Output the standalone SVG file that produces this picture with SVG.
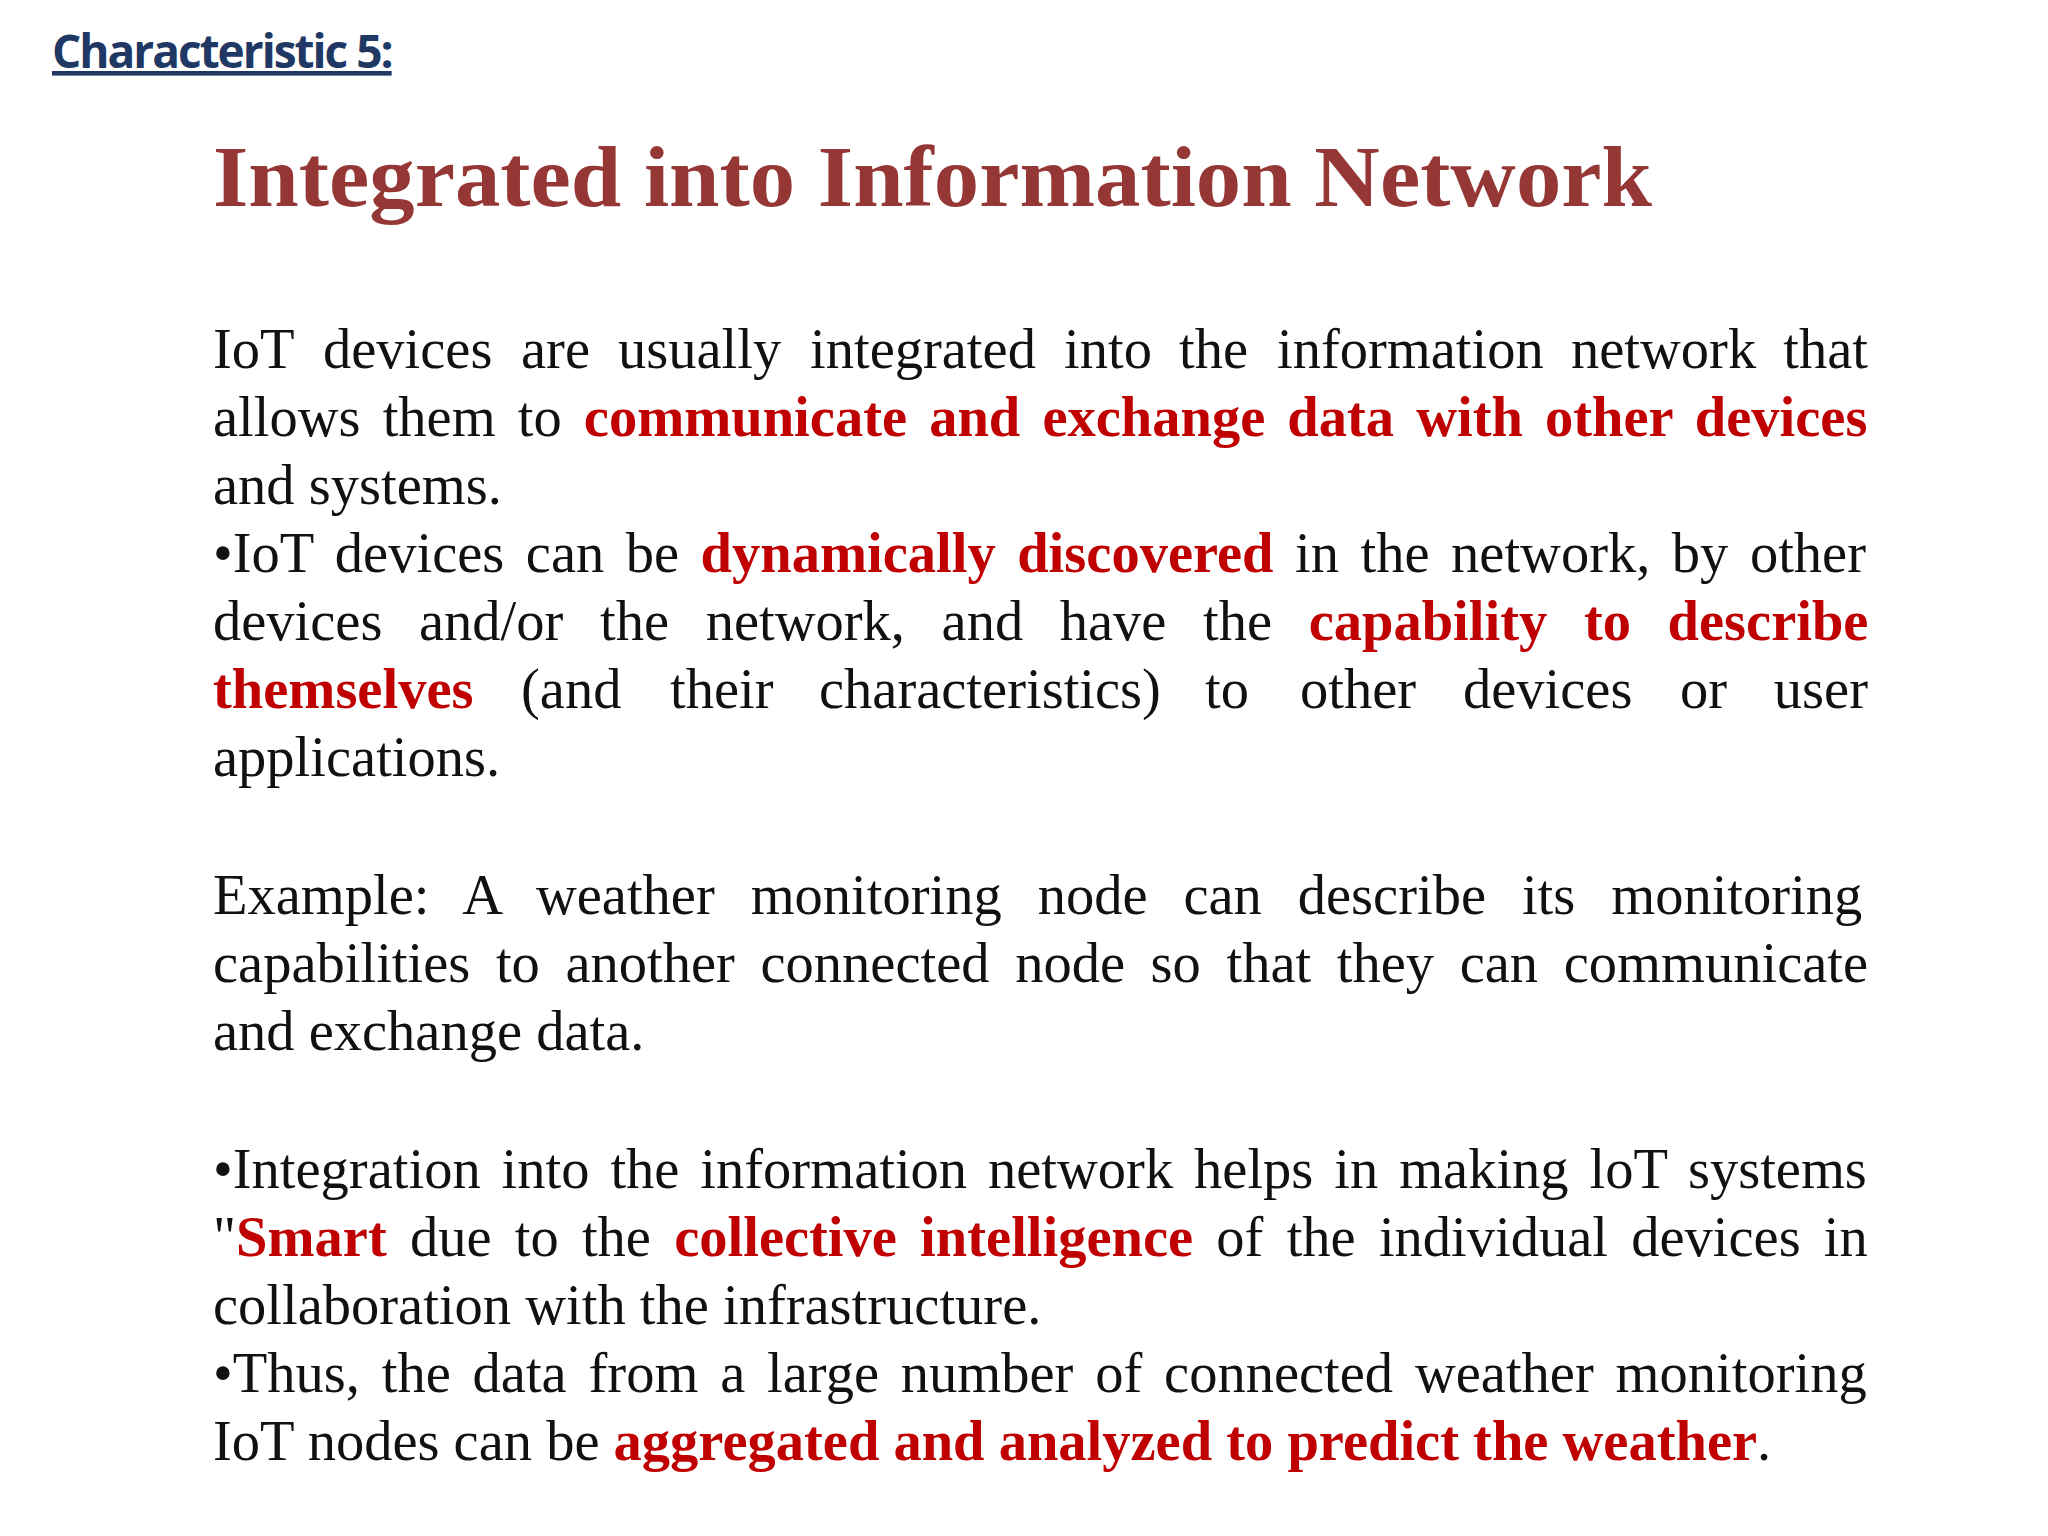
<svg xmlns="http://www.w3.org/2000/svg" width="2048" height="1536" viewBox="0 0 2048 1536">
<style>
.b{font-family:"Liberation Serif","Times New Roman",serif;font-size:56.5px;fill:#111}
.r{font-weight:bold;fill:#c00000}
.e{text-anchor:end}
</style>
<rect width="2048" height="1536" fill="#fff"/>
<g id="heading">
<text x="52" y="68" font-family="Open Sans, Noto Sans, sans-serif" font-weight="bold" font-size="46" letter-spacing="-2" fill="#1f3864" text-decoration="underline">Characteristic 5:</text>
</g>
<g id="title">
<text x="213" y="206" font-family="Liberation Serif, serif" font-weight="bold" font-size="86" fill="#953735" textLength="1439" lengthAdjust="spacingAndGlyphs">Integrated into Information Network</text>
</g>
<g id="body" class="b">
<text y="368"><tspan x="213">IoT</tspan><tspan x="323">devices</tspan><tspan x="521">are</tspan><tspan x="618">usually</tspan><tspan x="810">integrated</tspan><tspan x="1064">into</tspan><tspan x="1179">the</tspan><tspan x="1277">information</tspan><tspan x="1571">network</tspan><tspan x="1868" class="e">that</tspan></text>
<text x="213" y="436" word-spacing="8">allows them to <tspan class="r">communicate and exchange data with other devices</tspan></text>
<text x="213" y="504">and systems.</text>
<text x="213" y="572" word-spacing="7.4">•IoT devices can be <tspan class="r">dynamically discovered</tspan> in the network, by other</text>
<text x="213" y="640" word-spacing="22.5">devices and/or the network, and have the <tspan class="r">capability to describe</tspan></text>
<text y="708"><tspan class="r" x="213">themselves</tspan><tspan x="521">(and</tspan><tspan x="670">their</tspan><tspan x="819">characteristics)</tspan><tspan x="1205">to</tspan><tspan x="1300">other</tspan><tspan x="1463">devices</tspan><tspan x="1680">or</tspan><tspan x="1868" class="e">user</tspan></text>
<text x="213" y="776">applications.</text>
<text x="213" y="914" word-spacing="21.8">Example: A weather monitoring node can describe its monitoring</text>
<text x="213" y="982" word-spacing="11.5">capabilities to another connected node so that they can communicate</text>
<text x="213" y="1050">and exchange data.</text>
<text x="213" y="1188" word-spacing="6.8">•Integration into the information network helps in making loT systems</text>
<text x="213" y="1256" word-spacing="9.1">"<tspan class="r">Smart</tspan> due to the <tspan class="r">collective intelligence</tspan> of the individual devices in</text>
<text x="213" y="1324">collaboration with the infrastructure.</text>
<text x="213" y="1392" word-spacing="7.7">•Thus, the data from a large number of connected weather monitoring</text>
<text x="213" y="1460">IoT nodes can be <tspan class="r">aggregated and analyzed to predict the weather</tspan>.</text>
</g>
</svg>
